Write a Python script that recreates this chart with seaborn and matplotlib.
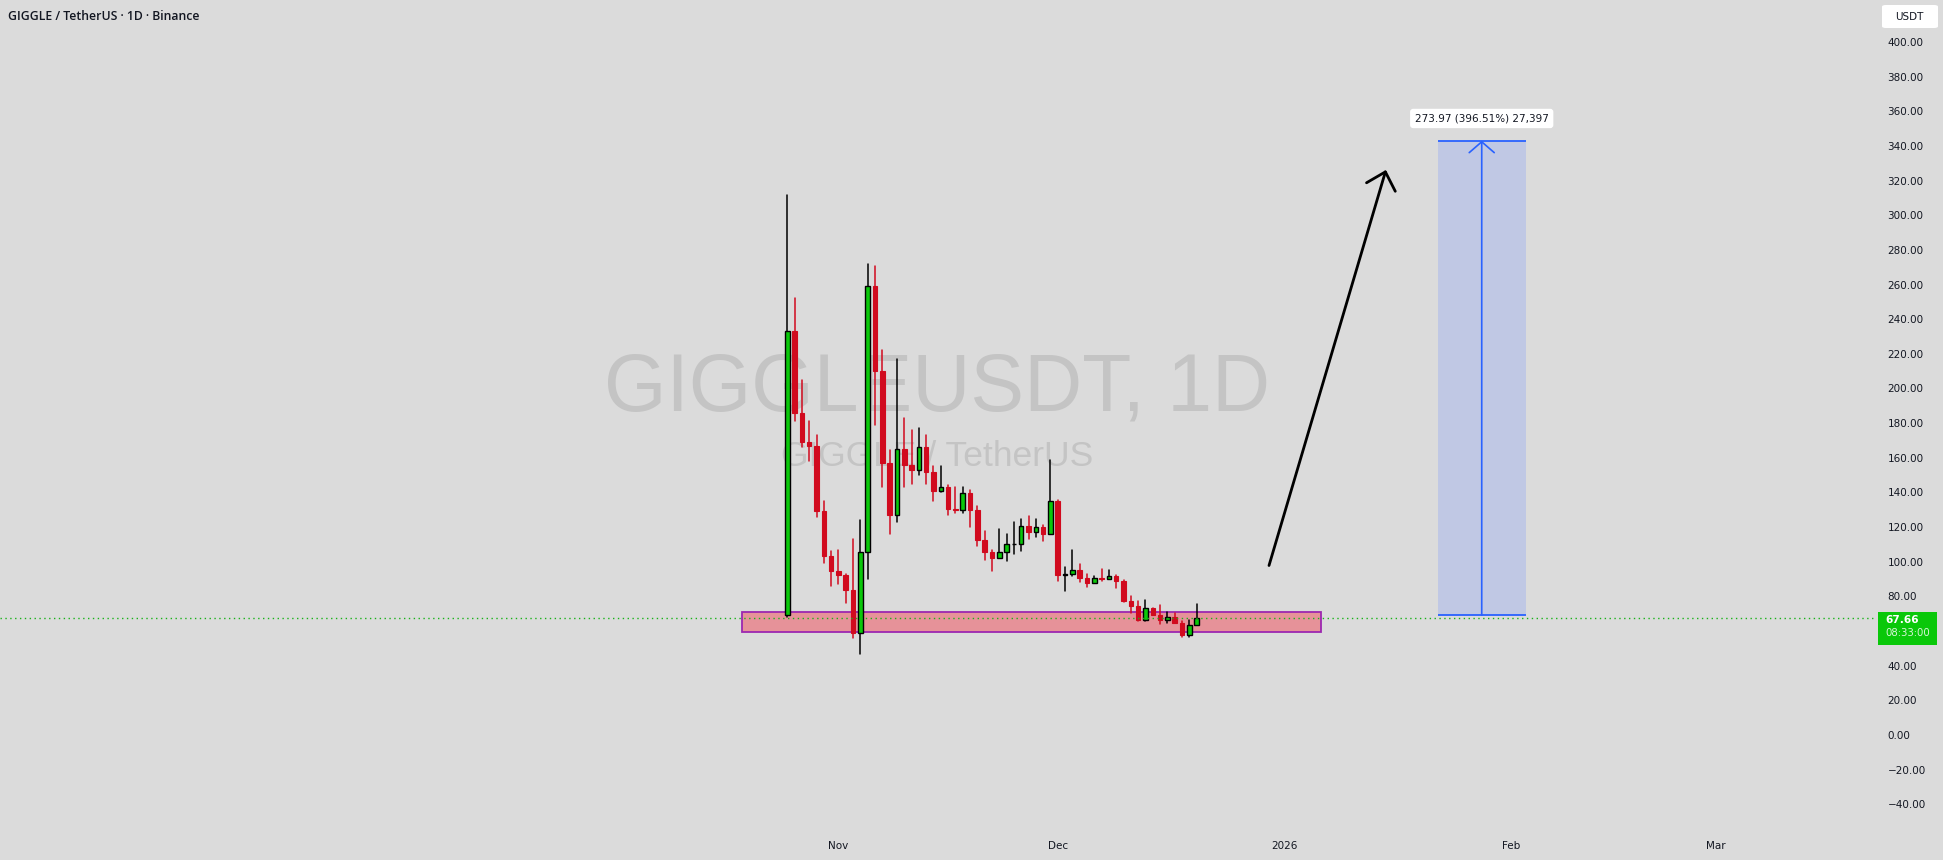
import pandas as pd
import numpy as np
import matplotlib
matplotlib.use("Agg")
import matplotlib.pyplot as plt
import matplotlib.dates as mdates
import matplotlib.transforms as mtrans
from matplotlib.patches import Rectangle, FancyBboxPatch
from matplotlib.ticker import FuncFormatter
import seaborn as sns

# daily candles GIGGLE/USDT
start_date = "2025-10-25"
opens = [69, 233, 186, 169, 167, 129, 103.5, 94.5, 92.5, 83.5,
         59, 105.5, 259, 210, 157, 127, 165, 156, 153, 166.5,
         152, 141, 143, 130.5, 130, 139.5, 130, 112.5, 105.5, 102,
         105.5, 110, 110.5, 120.5, 117, 120, 116, 135, 92.5, 93,
         95, 90.5, 87.5, 90.5, 90, 92, 89, 77.5, 74.5, 66.5,
         73.5, 69.5, 66.5, 68, 64.5, 57.5, 63.5]
highs = [312, 252, 205, 181, 173, 135, 106, 107, 93, 113,
         124, 272, 271, 222, 164.5, 217, 183, 176, 177, 173,
         155, 155, 144, 143, 143, 141.5, 132, 118, 107, 119,
         116, 123, 124.5, 126.5, 124.5, 121, 159, 135.5, 97, 107,
         98.5, 93, 91.5, 96, 95, 92.5, 89.5, 80, 77.5, 78,
         73.5, 75, 71, 70.5, 66, 66.5, 75.5]
lows = [68, 181, 166, 158, 126, 99, 86, 87, 76, 56,
        47, 90, 179, 143, 116, 123, 143, 145, 150, 145,
        135, 140.5, 127, 128, 128, 120, 109, 101, 94.5, 102,
        100.5, 104.5, 106, 113, 114.5, 112, 116, 89, 83, 92,
        88.5, 85.5, 87.5, 89, 90, 85, 77, 70.5, 66, 66,
        69, 64, 64.5, 64.5, 56.5, 56.5, 63.5]
closes = [233, 186, 169, 167, 129, 103.5, 94.5, 92.5, 83.5, 59,
          105.5, 259, 210, 157, 127, 165, 156, 153, 166.5, 152,
          141, 143, 130.5, 130, 139.5, 130, 112.5, 105.5, 102, 105.5,
          110, 110, 120.5, 117, 120, 116, 135, 92.5, 93, 95,
          90.5, 87.5, 90.5, 90.2, 92, 89, 77.5, 74.5, 66.5, 73.5,
          69.5, 66.5, 68, 64.5, 57.5, 63.5, 67.66]

last_price = 67.66
countdown = "08:33:00"
support_zone = (59.2, 71.2)
target_low = 69.1
target_high = 343.07
target_label = "273.97 (396.51%) 27,397"
# 60.00 is hidden behind the last-price label
price_ticks = [p for p in range(-40, 401, 20) if p != 60]
time_ticks = ["2025-11-01", "2025-12-01", "2026-01-01", "2026-02-01", "2026-03-01"]
time_labels = ["Nov", "Dec", "2026", "Feb", "Mar"]

BG = "#dbdbdb"
UP = "#0ac80a"
DOWN = "#d10a1e"
TXT = "#131722"
W, H = 1943, 860

df = pd.DataFrame({"open": opens, "high": highs, "low": lows, "close": closes})
df["date"] = pd.date_range(start_date, periods=len(df), freq="D")
df["dir"] = np.where(df["close"] >= df["open"], "up", "down")
t0 = df["date"].iloc[0]

def day(n):
    return mdates.date2num(t0 + pd.Timedelta(days=n))

sns.set_theme(style="white", rc={"axes.facecolor": BG, "figure.facecolor": BG})
plt.rcParams["font.family"] = ["DejaVu Sans"]

fig = plt.figure(figsize=(19.43, 8.6), dpi=100)
ax = fig.add_axes([0, 30 / H, 1875 / W, 830 / H])
ax.set_facecolor(BG)

# watermark (behind the candles)
ax.text(937 / W, 1 - 390 / H, "GIGGLEUSDT, 1D", transform=fig.transFigure,
        ha="center", va="center", fontsize=58, color="#c4c4c4",
        family="Liberation Sans", zorder=0.5)
ax.text(937 / W, 1 - 457 / H, "GIGGLE / TetherUS", transform=fig.transFigure,
        ha="center", va="center", fontsize=25.5, color="#c4c4c4",
        family="Liberation Sans", zorder=0.5)

# support zone
ax.add_patch(Rectangle((day(-6.2), support_zone[0]), day(73) - day(-6.2),
                       support_zone[1] - support_zone[0], facecolor="#e69299",
                       edgecolor="#9c27b0", linewidth=1.3, zorder=1))

# wicks
wicks = pd.concat([
    df[["date", "low", "dir"]].rename(columns={"low": "price"}).reset_index(),
    df[["date", "high", "dir"]].rename(columns={"high": "price"}).reset_index(),
])
sns.lineplot(data=wicks, x="date", y="price", units="index", estimator=None,
             hue="dir", palette={"up": "black", "down": DOWN}, linewidth=1.1,
             legend=False, sort=False, ax=ax, zorder=2)

# bodies
body_lo = df[["open", "close"]].min(axis=1)
body_h = (df["close"] - df["open"]).abs()
up = df["dir"] == "up"
ax.bar(df["date"][up], body_h[up], bottom=body_lo[up], width=0.62,
       color=UP, edgecolor="black", linewidth=1.0, zorder=3)
ax.bar(df["date"][~up], body_h[~up], bottom=body_lo[~up], width=0.62,
       color=DOWN, edgecolor=DOWN, linewidth=0.8, zorder=3)

# last price line
ax.axhline(last_price, color="#19b219", linestyle=(0, (1, 2.5)), linewidth=1.0, zorder=4)

# target box
ax.add_patch(Rectangle((day(89), target_low), day(101) - day(89),
                       target_high - target_low, facecolor="#c0c8e4",
                       edgecolor="none", zorder=1))
ax.hlines([target_low, target_high], day(89), day(101), color="#2962ff", linewidth=1.3, zorder=2)
ax.annotate("", xy=(day(95), target_high), xytext=(day(95), target_low),
            arrowprops=dict(arrowstyle="->,head_length=0.65,head_width=0.75",
                            color="#2962ff", lw=1.2, shrinkA=0, shrinkB=0), zorder=3)
ax.annotate(target_label, xy=(day(95), target_high), xytext=(0, 16),
            textcoords="offset points", ha="center", va="center", fontsize=7.5,
            color=TXT, bbox=dict(boxstyle="round,pad=0.45,rounding_size=0.3",
                                 fc="white", ec="none"), zorder=5)

# drawn arrow
ax.annotate("", xy=(day(81.9), 326.2), xytext=(day(65.9), 97.8),
            arrowprops=dict(arrowstyle="->,head_length=0.95,head_width=0.9",
                            color="black", lw=2.0, shrinkA=0, shrinkB=0), zorder=5)

ax.set_xlim(day(-107.7), day(148.8))
ax.set_ylim(-54.9, 424.3)
ax.set_xlabel("")
ax.set_ylabel("")
for s in ax.spines.values():
    s.set_visible(False)

ax.yaxis.tick_right()
ax.set_yticks(price_ticks)
ax.yaxis.set_major_formatter(FuncFormatter(lambda v, p: f"{v:.2f}".replace("-", "\u2212")))
ax.set_xticks([mdates.date2num(pd.Timestamp(t)) for t in time_ticks])
ax.set_xticklabels(time_labels)
ax.tick_params(axis="y", length=0, pad=9, labelsize=7.5, labelcolor=TXT)
ax.tick_params(axis="x", length=0, pad=8, labelsize=7.5, labelcolor=TXT)

# currency box on the price scale
fig.patches.append(FancyBboxPatch((1882 / W, 1 - 28 / H), 56 / W, 23 / H,
                                  boxstyle="round,pad=0,rounding_size=0.002",
                                  transform=fig.transFigure, facecolor="white",
                                  edgecolor="none", zorder=5))
fig.text(1909 / W, 1 - 16.5 / H, "USDT", ha="center", va="center", fontsize=7.5,
         color=TXT, zorder=6)

# last price label
blend = mtrans.blended_transform_factory(fig.transFigure, ax.transData)
box_y0 = last_price - (645 - 618) / 1.732
fig.patches.append(Rectangle((1878 / W, box_y0), 59 / W, 33 / 1.732, transform=blend,
                             facecolor=UP, edgecolor="none", zorder=5))
fig.text(1885 / W, last_price - 1.2, f"{last_price:.2f}", transform=blend, ha="left", va="center",
         fontsize=7.6, fontweight="bold", color="white", zorder=6)
fig.text(1885 / W, last_price - 8.9, countdown, transform=blend, ha="left", va="center",
         fontsize=7.3, color="#d8f5d8", zorder=6)

# header
fig.text(8 / W, 1 - 16 / H, "GIGGLE / TetherUS \u00b7 1D \u00b7 Binance", ha="left", va="center",
         fontsize=8.8, fontweight="semibold", color=TXT, family=["Open Sans", "DejaVu Sans"])

fig.savefig("out.png", dpi=100, facecolor=BG)
